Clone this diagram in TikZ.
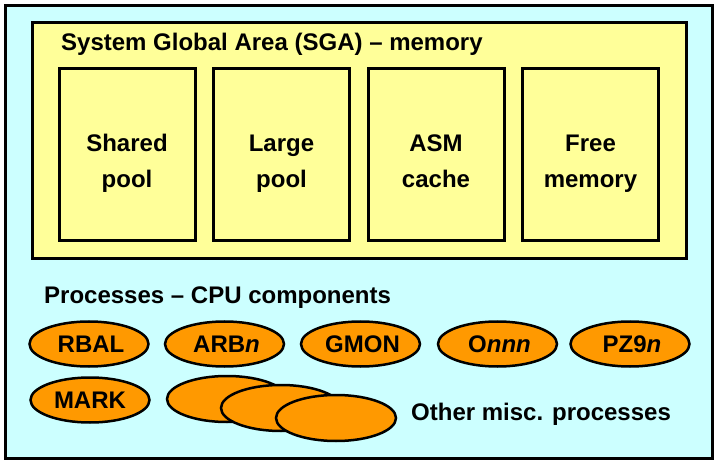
\documentclass[tikz,border=0pt]{standalone}
\usepackage{fontspec}
\setmainfont{Liberation Sans}
\usetikzlibrary{shapes.geometric}
\definecolor{bgcyan}{HTML}{CCFFFF}
\definecolor{sgayellow}{HTML}{FFFF99}
\definecolor{procorange}{HTML}{FF9900}
\begin{document}
\begin{tikzpicture}[x=1pt,y=-1pt,
  outerbox/.style={draw=black,line width=3pt,fill=bgcyan},
  sgabox/.style={draw=black,line width=3pt,fill=sgayellow},
  membox/.style={rectangle,draw=black,line width=3pt,fill=sgayellow,minimum width=136pt,minimum height=172pt,inner sep=0pt},
  memtext/.style={align=center,inner sep=0pt,font=\fontsize{24}{36}\selectfont\bfseries},
  proc/.style={ellipse,draw=black,line width=2.5pt,fill=procorange,minimum width=119pt,minimum height=45pt,inner sep=0pt,font=\fontsize{24}{28}\selectfont\bfseries},
  label/.style={font=\fontsize{24}{28}\selectfont\bfseries,anchor=west,inner sep=0pt}
]
\useasboundingbox (0,0) rectangle (718,465);
\fill[white] (0,0) rectangle (718,465);
\draw[outerbox] (5,6) rectangle (712,458);
\draw[sgabox] (32,23) rectangle (686,259);
\node[label] (sgatitle) at (61,44) {System Global Area (SGA) – memory};
\node[membox] (shared) at (127,155) {};
\node[membox] (large) at (281.5,155) {};
\node[membox] (asm) at (436,155) {};
\node[membox] (free) at (590.5,155) {};
\node[memtext] (sharedtxt) at (127,162) {\strut Shared\\\strut pool};
\node[memtext] (largetxt) at (281.5,162) {\strut Large\\\strut pool};
\node[memtext] (asmtxt) at (436,162) {\strut ASM\\\strut cache};
\node[memtext] (freetxt) at (590.5,162) {\strut Free\\\strut memory};
\node[label] (proclabel) at (44,298) {Processes – CPU components};
\node[proc] (rbal) at (89,344) {\hspace{4pt}RBAL};
\node[proc] (arbn) at (224.5,344) {\hspace{4pt}ARB\textit{n}};
\node[proc] (gmon) at (360.5,344) {\hspace{4pt}GMON};
\node[proc] (onnn) at (497.5,344) {\hspace{4pt}O\textit{nnn}};
\node[proc] (pz9n) at (630,344) {\hspace{4pt}PZ9\textit{n}};
\node[proc] (mark) at (90,400) {MARK};
\node[proc,minimum width=120pt,minimum height=46pt] (misc1) at (227,399) {};
\node[proc,minimum width=120pt,minimum height=46pt] (misc2) at (281,408) {};
\node[proc,minimum width=120pt,minimum height=46pt] (misc3) at (336,418) {};
\node[label] (misclabel) at (411,414) {Other misc. processes};
\end{tikzpicture}
\end{document}
